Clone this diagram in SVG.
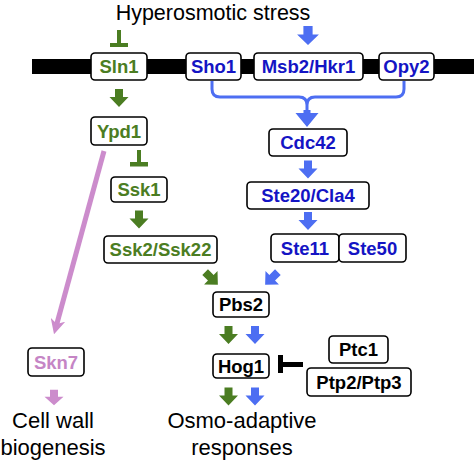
<svg xmlns="http://www.w3.org/2000/svg" width="474" height="463" viewBox="0 0 474 463">
<style>
.box{fill:#fff;stroke:#000;stroke-width:1.6}
.lbl{font-family:"Liberation Sans",Arial,sans-serif;font-weight:bold;font-size:18.5px;text-anchor:middle}
.g{fill:#4b7d22}
.b{fill:#1414c4}
.p{fill:#c585c5}
.k{fill:#000}
.cap{font-family:"Liberation Sans",Arial,sans-serif;font-size:22px;text-anchor:middle;fill:#000}
.ga{fill:#4b7d22}
.ba{fill:#4d6ef2}
.pa{fill:#cc8ccc}
</style>
<defs>
<path id="arr" d="M-4,-9 H4 V-1 H9.5 L0,9 L-9.5,-1 H-4 Z"/>
<marker id="pinkHead" viewBox="0 0 10 10" refX="5" refY="5" markerWidth="3" markerHeight="3" orient="auto" markerUnits="strokeWidth">
<path d="M0,0 L10,5 L0,10 L3,5 Z" fill="#cc8ccc"/>
</marker>
</defs>

<text class="cap" x="213" y="20" font-size="21.5px" style="font-size:21.5px">Hyperosmotic stress</text>

<rect id="membrane" x="32" y="59" width="442" height="15" fill="#000"/>

<g id="connectors">
  <g class="ga"><rect x="117" y="30" width="4" height="14"/><rect x="110" y="43" width="18" height="4"/></g>
  <use href="#arr" class="ba" transform="translate(308,35.5) scale(1.15,1.05)"/>
  <use href="#arr" class="ga" transform="translate(119,98)"/>
  <g class="ga"><rect x="137" y="150" width="4" height="13"/><rect x="130" y="162" width="18" height="4.5"/></g>
  <use href="#arr" class="ga" transform="translate(139,219.5)"/>
  <path d="M212,81 V89 Q212,97 220,97 H299 Q307,97 307,105 V113 M404,81 V89 Q404,97 396,97 H315 Q307,97 307,105" fill="none" stroke="#4d6ef2" stroke-width="3"/>
  <path d="M303.5,110 H310.5 V113 H318.5 L307,127 L295.5,113 H303.5 Z" class="ba"/>
  <use href="#arr" class="ba" transform="translate(308,169.5)"/>
  <use href="#arr" class="ba" transform="translate(308,221)"/>
  <use href="#arr" class="ga" transform="translate(211.5,278.5) rotate(-45)"/>
  <use href="#arr" class="ba" transform="translate(271.5,278.5) rotate(45)"/>
  <use href="#arr" class="ga" transform="translate(228.5,335)"/>
  <use href="#arr" class="ba" transform="translate(255,335)"/>
  <use href="#arr" class="ga" transform="translate(228.5,396.5)"/>
  <use href="#arr" class="ba" transform="translate(255,396.5)"/>
  <g class="k"><rect x="278" y="355" width="5" height="18"/><rect x="283" y="362" width="20" height="5"/></g>
  <line x1="104" y1="151" x2="56" y2="327" stroke="#cc8ccc" stroke-width="5" marker-end="url(#pinkHead)"/>
  <use href="#arr" class="pa" transform="translate(54,397.5) scale(1,0.85)"/>
</g>

<g id="Sln1"><rect class="box" x="91" y="53" width="56" height="27" rx="4"/><text class="lbl g" x="119" y="73">Sln1</text></g>
<g id="Sho1"><rect class="box" x="186" y="53" width="55" height="27" rx="4"/><text class="lbl b" x="213.5" y="73">Sho1</text></g>
<g id="Msb2Hkr1"><rect class="box" x="254" y="53" width="109" height="27" rx="4"/><text class="lbl b" x="308.5" y="73">Msb2/Hkr1</text></g>
<g id="Opy2"><rect class="box" x="379" y="53" width="55" height="27" rx="4"/><text class="lbl b" x="406.5" y="73">Opy2</text></g>
<g id="Ypd1"><rect class="box" x="91" y="117" width="56" height="28" rx="4"/><text class="lbl g" x="119" y="137.5">Ypd1</text></g>
<g id="Ssk1"><rect class="box" x="111" y="177" width="56" height="25" rx="4"/><text class="lbl g" x="139" y="196">Ssk1</text></g>
<g id="Ssk2Ssk22"><rect class="box" x="104" y="236" width="113" height="27" rx="4"/><text class="lbl g" x="160.5" y="256">Ssk2/Ssk22</text></g>
<g id="Cdc42"><rect class="box" x="269" y="129" width="78" height="27" rx="4"/><text class="lbl b" x="308" y="149">Cdc42</text></g>
<g id="Ste20Cla4"><rect class="box" x="247" y="182" width="122" height="27" rx="4"/><text class="lbl b" x="308" y="202">Ste20/Cla4</text></g>
<g id="Ste11"><rect class="box" x="271" y="234" width="68" height="28" rx="4"/><text class="lbl b" x="305" y="254.5">Ste11</text></g>
<g id="Ste50"><rect class="box" x="339" y="234" width="67" height="28" rx="4"/><text class="lbl b" x="372.5" y="254.5">Ste50</text></g>
<g id="Pbs2"><rect class="box" x="213" y="292" width="56" height="25" rx="4"/><text class="lbl k" x="241" y="311">Pbs2</text></g>
<g id="Hog1"><rect class="box" x="213" y="354" width="56" height="24" rx="4"/><text class="lbl k" x="241" y="372.5">Hog1</text></g>
<g id="Ptc1"><rect class="box" x="329" y="336" width="59" height="27" rx="4"/><text class="lbl k" x="358.5" y="356">Ptc1</text></g>
<g id="Ptp2Ptp3"><rect class="box" x="307" y="368" width="104" height="28" rx="4"/><text class="lbl k" x="359" y="388.5">Ptp2/Ptp3</text></g>
<g id="Skn7"><rect class="box" x="28" y="348" width="56" height="28" rx="4"/><text class="lbl p" x="56" y="368.5">Skn7</text></g>

<text class="cap" x="53" y="428">Cell wall</text>
<text class="cap" x="53" y="455">biogenesis</text>
<text class="cap" x="242" y="428">Osmo-adaptive</text>
<text class="cap" x="242" y="455">responses</text>
</svg>
